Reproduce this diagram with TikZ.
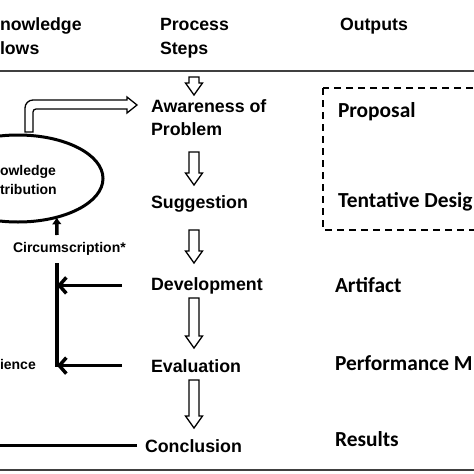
\documentclass[tikz,border=0pt]{standalone}
\usepackage{fontspec}
\setmainfont{Liberation Sans}
\newfontfamily\calibrifont{Carlito}
\usetikzlibrary{
  shapes.geometric,  % ellipse round the knowledge contribution
  arrows.meta        % tips of the feedback arrows
}
\tikzset{
  every node/.style = {
    inner sep=0pt,
    outer sep=0pt,
    anchor=base west,
    font=\bfseries\fontsize{17.8}{20}\selectfont
  },
  title/.append style = {font=\bfseries\fontsize{17.7}{20}\selectfont},
  output/.append style = {font=\calibrifont\bfseries\fontsize{21.4}{24}\selectfont},
  flowtext/.append style = {font=\bfseries\fontsize{14}{16}\selectfont},
  kcbox/.append style = {
    ellipse, draw, line width=3pt,
    minimum width=170pt, minimum height=87pt, anchor=center
  },
  hollow/.append style = {line width=1.3pt, line join=miter},
  % hollow block arrow pointing down, #1 = length from tail to tip
  pics/downflow/.style = {code = {
    \draw[hollow] (-5,0) -- (-5,#1-12) -- (-8.5,#1-12) -- (0,#1)
      -- (8.5,#1-12) -- (5,#1-12) -- (5,0) -- cycle;
  }},
  feedline/.append style = {line width=3.5pt},
  feedback/.append style = {feedline, -{Straight Barb[length=7pt,width=16pt]}},
  lift/.append style = {line width=3.5pt, -{Latex[length=7pt,width=10pt]}},
  rule/.append style = {line width=1.8pt, draw=black!75},
  outputbox/.append style = {line width=1.8pt, dash pattern=on 7pt off 5pt}
}

\begin{document}
\begin{tikzpicture}[x=1pt, y=-1pt]

  \fill[white] (0,0) rectangle (474,474);
  \useasboundingbox (0,0) rectangle (474,474);
  \clip (0,0) rectangle (474,474);

  %% headings
  \node[title] (KFa) at (0,30)   {nowledge};
  \node[title] (KFb) at (0,54)   {lows};
  \node[title] (PSa) at (160,30) {Process};
  \node[title] (PSb) at (160,54) {Steps};
  \node[title] (OUT) at (340,30) {Outputs};

  \draw[rule] (-5,71) -- (480,71);
  \draw[rule] (-5,470) -- (480,470);

  %% process steps
  \node (AWa) at (151,112) {Awareness of};
  \node (AWb) at (151,135) {Problem};
  \node (SUG) at (151,208) {Suggestion};
  \node (DEV) at (151,290) {Development};
  \node (EVA) at (151,372) {Evaluation};
  \node (CON) at (145,452) {Conclusion};

  \pic (F0) at (194,77)  {downflow=18};
  \pic (F1) at (194,152) {downflow=33};
  \pic (F2) at (194,230) {downflow=33};
  \pic (F3) at (194,298) {downflow=50};
  \pic (F4) at (194,380) {downflow=48};

  %% outputs
  \node[output] (PRO) at (338,117) {Proposal};
  \node[output] (TEN) at (338,207) {Tentative Desig};
  \node[output] (ART) at (335,292) {Artifact};
  \node[output] (PER) at (335,370) {Performance M};
  \node[output] (RES) at (335,446) {Results};

  \draw[outputbox] (323,88) rectangle (490,230);

  %% knowledge flows
  \node[kcbox] (KC) at (18,178.5) {};
  \node[flowtext] (KCa) at (0,175)  {owledge};
  \node[flowtext] (KCb) at (0,194)  {tribution};
  \node[flowtext] (CIR) at (13,252) {Circumscription*};
  \node[flowtext] (OGK) at (0,369)  {ience};

  \draw[hollow] (25,132) {[rounded corners=8pt] -- (25,100) -- (60,100)}
    -- (127,100) -- (127,97) -- (137,105) -- (127,113) -- (127,109)
    {[rounded corners=3pt] -- (33,109) -- (33,120)} -- (33,132) -- cycle;

  \coordinate (CIRup) at (57,235);
  \draw[lift] (CIRup) -- (KC.-45);

  %% arrows
  \coordinate (FBtop) at (57,263);
  \draw[feedline] (FBtop) -- ([yshift=-1.75pt]EVA.west -| FBtop);
  \draw[feedback] ([xshift=-29pt]DEV.west) -- (DEV.west -| FBtop);
  \draw[feedback] ([xshift=-29pt]EVA.west) -- (EVA.west -| FBtop);

  \coordinate (LEFT) at (-5,446);
  \draw[feedline] ([xshift=-8pt]CON.west) -- (CON.west -| LEFT);

\end{tikzpicture}
\end{document}
